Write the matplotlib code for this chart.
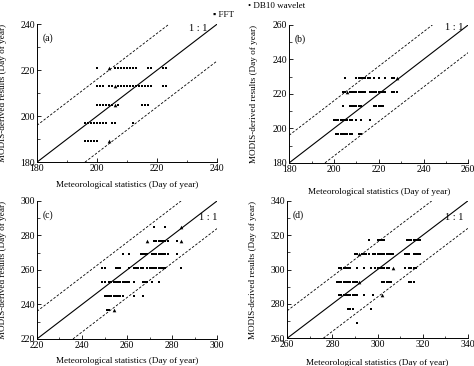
import matplotlib
matplotlib.use("Agg")
import matplotlib.pyplot as plt
from matplotlib.ticker import MultipleLocator

plt.rcParams['font.family'] = ['Liberation Serif', 'DejaVu Sans']
plt.rcParams['font.size'] = 7

# ---------------- data (day of year) ----------------
# panel (a)
a_fft_x = [200, 206, 207, 208, 209, 210, 211, 212, 213, 217, 218, 222, 223,
           200, 201, 202, 204, 205, 207, 208, 209, 210, 211, 212, 213, 214, 215, 216, 217, 218, 222, 223,
           200, 201, 202, 203, 204, 205, 207, 215, 216, 217,
           196, 197, 198, 199, 200, 201, 202, 203, 205, 206, 212,
           196, 197, 198, 199, 200]
a_fft_y = [221] * 13 + [213] * 19 + [205] * 10 + [197] * 11 + [189] * 5
a_db_x = [204, 206, 206, 204]
a_db_y = [221, 213, 205, 189]

# panel (b)
b_fft_x = [205, 210, 211, 212, 213, 214, 215, 216, 218, 220, 223, 226, 227,
           204, 205, 207, 208, 209, 210, 211, 212, 213, 214, 216, 217, 218, 219, 220, 221, 222, 223, 226, 227, 228,
           204, 207, 208, 209, 210, 211, 212, 218, 219, 220, 221, 222,
           200, 201, 202, 203, 204, 205, 206, 207, 208, 210, 212, 216,
           201, 202, 203, 204, 205, 206, 207, 208, 211, 212]
b_fft_y = [229] * 13 + [221] * 21 + [213] * 12 + [205] * 12 + [197] * 10
b_db_x = [228, 206]
b_db_y = [229, 221]

# panel (c)
c_fft_x = [272, 277,
           272, 273, 274, 275, 276, 277, 278, 282,
           258, 261, 266, 267, 268, 269, 271, 272, 273, 274, 275, 276, 277, 278, 282,
           249, 250, 255, 256, 257, 261, 263, 264, 265, 266, 267, 269, 270, 271, 272, 273, 274, 275, 276, 277, 284,
           249, 250, 252, 253, 254, 255, 256, 257, 258, 259, 260, 261, 263, 267, 268, 269, 271, 274,
           250, 251, 252, 253, 254, 255, 256, 257, 258, 263, 267,
           251, 252]
c_fft_y = ([285] * 2 + [277] * 8 + [269] * 15 + [261] * 21 + [253] * 18 + [245] * 11 + [237] * 2)
c_db_x = [284, 269, 284, 254]
c_db_y = [285, 277, 277, 237]

# panel (d)
d_fft_x = [296, 300, 301, 302, 303, 313, 314, 315, 316, 317, 318, 319,
           290, 291, 293, 294, 295, 296, 298, 299, 300, 301, 302, 303, 304, 305, 306, 307, 312, 313, 314, 316, 317, 318, 319,
           283, 284, 285, 286, 287, 288, 291, 294, 297, 299, 300, 301, 302, 303, 304, 305, 312, 314, 315, 316, 317,
           282, 283, 284, 285, 286, 287, 288, 289, 290, 291, 302, 303, 304, 305, 306, 314, 315, 316,
           283, 284, 285, 286, 287, 288, 289, 290, 291, 294, 298,
           287, 288, 289, 297,
           291]
d_fft_y = ([317] * 12 + [309] * 23 + [301] * 21 + [293] * 18 + [285] * 11 + [277] * 4 + [269])
d_db_x = [292, 307, 292, 302]
d_db_y = [309, 301, 293, 285]

panels = [
    dict(lab='(a)', lim=(180, 240), fx=a_fft_x, fy=a_fft_y, dx=a_db_x, dy=a_db_y,
         rect=[0.078, 0.557, 0.380, 0.377], ratio=(233.8, 238.0), xl=-0.135, yl=-0.165),
    dict(lab='(b)', lim=(180, 260), fx=b_fft_x, fy=b_fft_y, dx=b_db_x, dy=b_db_y,
         rect=[0.610, 0.555, 0.378, 0.377], ratio=(253.7, 258.5), xl=-0.185, yl=-0.175),
    dict(lab='(c)', lim=(220, 300), fx=c_fft_x, fy=c_fft_y, dx=c_db_x, dy=c_db_y,
         rect=[0.078, 0.074, 0.380, 0.377], ratio=(296.0, 290.5), xl=-0.13, yl=-0.165),
    dict(lab='(d)', lim=(260, 340), fx=d_fft_x, fy=d_fft_y, dx=d_db_x, dy=d_db_y,
         rect=[0.606, 0.076, 0.381, 0.375], ratio=(334.0, 330.5), xl=-0.15, yl=-0.165),
]
offset = 16

fig = plt.figure(figsize=(4.74, 3.66), dpi=100)
for p in panels:
    ax = fig.add_axes(p['rect'])
    lo, hi = p['lim']
    ax.plot([lo, hi], [lo, hi], color='black', lw=0.8)
    ax.plot([lo, hi - offset], [lo + offset, hi], color='black', lw=0.6, ls=(0, (3, 2)))
    ax.plot([lo + offset, hi], [lo, hi - offset], color='black', lw=0.6, ls=(0, (3, 2)))
    ax.plot(p['fx'], p['fy'], ls='none', marker='s', ms=1.9, color='black', mew=0)
    ax.plot(p['dx'], p['dy'], ls='none', marker='^', ms=2.6, color='black', mew=0)
    ax.set_xlim(lo, hi)
    ax.set_ylim(lo, hi)
    ax.xaxis.set_major_locator(MultipleLocator(20))
    ax.yaxis.set_major_locator(MultipleLocator(20))
    ax.xaxis.set_minor_locator(MultipleLocator(10))
    ax.yaxis.set_minor_locator(MultipleLocator(10))
    ax.tick_params(which='major', direction='in', length=3, width=0.6, pad=1.5, labelsize=7)
    ax.tick_params(which='minor', direction='in', length=1.8, width=0.5)
    for s in ['top', 'right']:
        ax.spines[s].set_visible(False)
    for s in ['left', 'bottom']:
        ax.spines[s].set_linewidth(0.7)
    ax.set_xlabel('Meteorological statistics (Day of year)', fontsize=6.6)
    ax.set_ylabel('MODIS-derived results (Day of year)', fontsize=6.6)
    ax.xaxis.set_label_coords(0.5, p['xl'])
    ax.yaxis.set_label_coords(p['yl'], 0.5)
    ax.text(0.03, 0.93, p['lab'], transform=ax.transAxes, fontsize=7, va='top')
    ax.text(p['ratio'][0], p['ratio'][1], '1 : 1', fontsize=7.5, ha='center', va='center')

fig.text(0.449, 0.959, '\u25aa FFT', fontsize=6.5, va='center')
fig.text(0.523, 0.984, '\u2022 DB10 wavelet', fontsize=6.5, va='center')

fig.savefig('out.png', dpi=100)
